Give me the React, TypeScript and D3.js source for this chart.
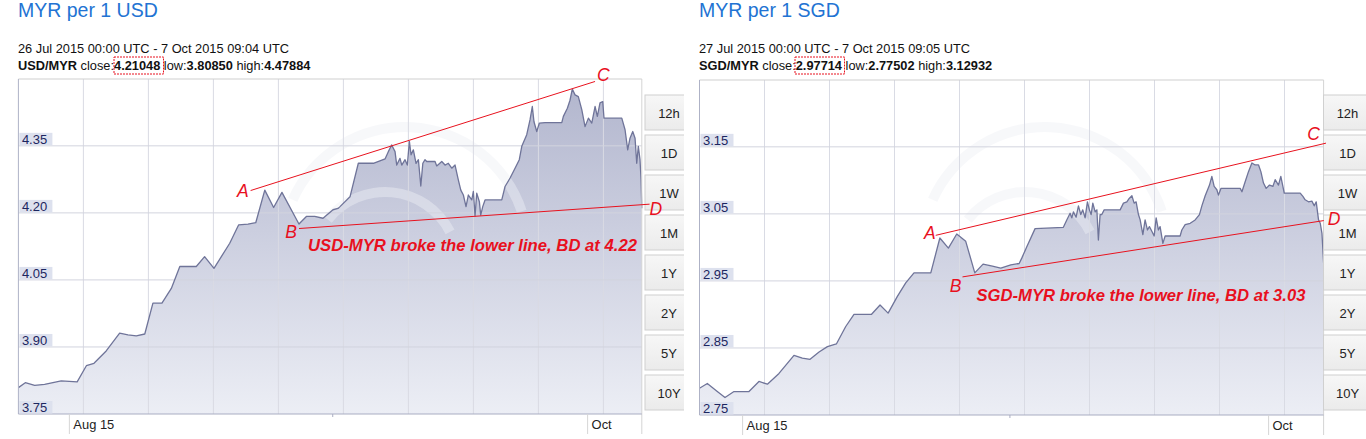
import React from "react";
import * as d3 from "d3";

type Pt = [string, number];

const FONT = "'Liberation Sans', Arial, Helvetica, sans-serif";
const parse = d3.utcParse("%Y-%m-%d %H:%M");

// USD/MYR series (date UTC, rate)
const usdMyr: Pt[] = [
  ["2015-07-26 00:00", 3.809], ["2015-07-26 19:30", 3.82], ["2015-07-27 22:00", 3.814],
  ["2015-07-29 02:00", 3.8165], ["2015-07-31 01:00", 3.824], ["2015-08-01 22:00", 3.822],
  ["2015-08-03 00:00", 3.858], ["2015-08-03 21:30", 3.8635], ["2015-08-05 08:00", 3.891],
  ["2015-08-06 22:00", 3.931], ["2015-08-07 21:30", 3.927], ["2015-08-08 21:00", 3.925],
  ["2015-08-09 21:00", 3.929], ["2015-08-10 20:00", 3.998], ["2015-08-11 21:30", 3.998],
  ["2015-08-13 00:00", 4.031], ["2015-08-14 00:00", 4.08], ["2015-08-15 22:30", 4.08],
  ["2015-08-16 22:00", 4.102], ["2015-08-18 00:30", 4.076], ["2015-08-19 21:00", 4.132],
  ["2015-08-20 22:00", 4.173], ["2015-08-22 00:30", 4.175], ["2015-08-22 22:30", 4.178],
  ["2015-08-24 00:00", 4.251], ["2015-08-25 01:00", 4.212], ["2015-08-26 00:30", 4.246],
  ["2015-08-28 00:30", 4.175], ["2015-08-28 21:30", 4.192], ["2015-08-29 21:00", 4.192],
  ["2015-08-30 20:30", 4.188], ["2015-09-01 00:45", 4.207], ["2015-09-01 15:00", 4.21],
  ["2015-09-01 20:30", 4.214], ["2015-09-03 00:45", 4.236], ["2015-09-04 00:15", 4.311],
  ["2015-09-05 18:45", 4.311], ["2015-09-07 04:00", 4.321], ["2015-09-07 13:00", 4.337],
  ["2015-09-07 22:30", 4.352], ["2015-09-08 08:00", 4.337], ["2015-09-08 12:45", 4.307],
  ["2015-09-08 22:00", 4.322], ["2015-09-09 03:00", 4.307], ["2015-09-09 12:15", 4.319],
  ["2015-09-09 18:45", 4.307], ["2015-09-10 00:30", 4.36], ["2015-09-10 05:15", 4.33],
  ["2015-09-10 11:45", 4.341], ["2015-09-10 19:15", 4.311], ["2015-09-11 02:00", 4.319],
  ["2015-09-11 08:45", 4.26], ["2015-09-11 14:30", 4.311], ["2015-09-11 20:45", 4.319],
  ["2015-09-12 01:30", 4.315], ["2015-09-13 01:00", 4.315], ["2015-09-13 05:45", 4.305],
  ["2015-09-13 20:00", 4.315], ["2015-09-14 05:15", 4.307], ["2015-09-14 14:30", 4.311],
  ["2015-09-15 00:15", 4.3], ["2015-09-15 09:30", 4.307], ["2015-09-15 18:45", 4.274],
  ["2015-09-16 01:45", 4.251], ["2015-09-16 09:00", 4.24], ["2015-09-16 16:30", 4.214],
  ["2015-09-16 23:00", 4.24], ["2015-09-17 08:45", 4.229], ["2015-09-17 13:15", 4.248],
  ["2015-09-17 18:00", 4.193], ["2015-09-17 22:45", 4.244], ["2015-09-18 06:15", 4.225],
  ["2015-09-18 10:00", 4.195], ["2015-09-18 15:45", 4.214], ["2015-09-18 22:15", 4.229],
  ["2015-09-20 21:30", 4.229], ["2015-09-21 06:45", 4.259], ["2015-09-21 21:00", 4.278],
  ["2015-09-22 11:00", 4.3], ["2015-09-22 23:00", 4.319], ["2015-09-23 06:00", 4.349],
  ["2015-09-23 20:00", 4.375], ["2015-09-24 05:15", 4.408], ["2015-09-24 11:45", 4.438],
  ["2015-09-24 16:30", 4.404], ["2015-09-25 00:15", 4.382], ["2015-09-25 07:45", 4.401],
  ["2015-09-25 23:45", 4.402], ["2015-09-27 23:00", 4.402], ["2015-09-28 03:30", 4.416],
  ["2015-09-28 14:45", 4.434], ["2015-09-28 22:15", 4.452], ["2015-09-29 04:45", 4.477],
  ["2015-09-29 12:30", 4.464], ["2015-09-29 21:45", 4.46], ["2015-09-30 07:30", 4.431],
  ["2015-09-30 16:45", 4.393], ["2015-10-01 02:15", 4.412], ["2015-10-01 11:45", 4.401],
  ["2015-10-01 21:00", 4.438], ["2015-10-02 03:30", 4.416], ["2015-10-02 11:00", 4.446],
  ["2015-10-02 18:45", 4.449], ["2015-10-02 22:15", 4.412], ["2015-10-05 00:30", 4.412],
  ["2015-10-05 09:45", 4.386], ["2015-10-05 17:15", 4.341], ["2015-10-05 23:45", 4.367],
  ["2015-10-06 07:30", 4.382], ["2015-10-06 14:00", 4.367], ["2015-10-06 18:45", 4.311],
  ["2015-10-06 23:15", 4.349], ["2015-10-07 04:00", 4.319], ["2015-10-07 07:00", 4.274],
  ["2015-10-07 09:04", 4.2105],
];

// SGD/MYR series
const sgdMyr: Pt[] = [
  ["2015-07-27 00:00", 2.79], ["2015-07-27 21:45", 2.797], ["2015-07-29 01:30", 2.785],
  ["2015-07-29 23:00", 2.776], ["2015-07-31 00:00", 2.785], ["2015-08-01 17:45", 2.785],
  ["2015-08-02 21:30", 2.8], ["2015-08-03 21:00", 2.796], ["2015-08-05 05:15", 2.812],
  ["2015-08-06 23:00", 2.839], ["2015-08-07 22:15", 2.835], ["2015-08-08 19:45", 2.833],
  ["2015-08-09 20:45", 2.844], ["2015-08-10 20:00", 2.852], ["2015-08-11 21:00", 2.856],
  ["2015-08-12 23:00", 2.882], ["2015-08-13 22:00", 2.9], ["2015-08-15 22:15", 2.9],
  ["2015-08-16 22:30", 2.914], ["2015-08-17 21:00", 2.902], ["2015-08-18 22:45", 2.927],
  ["2015-08-19 22:00", 2.947], ["2015-08-20 21:00", 2.962], ["2015-08-22 19:45", 2.962],
  ["2015-08-23 21:00", 3.014], ["2015-08-24 20:45", 2.999], ["2015-08-25 20:00", 3.02],
  ["2015-08-26 21:00", 3.009], ["2015-08-27 22:15", 2.962], ["2015-08-28 21:15", 2.975],
  ["2015-08-29 23:15", 2.972], ["2015-08-30 22:30", 2.969], ["2015-09-01 02:30", 2.974],
  ["2015-09-02 01:45", 2.976], ["2015-09-02 09:00", 2.984], ["2015-09-02 23:00", 3.001],
  ["2015-09-03 22:00", 3.028], ["2015-09-07 04:45", 3.03], ["2015-09-07 14:15", 3.041],
  ["2015-09-07 23:30", 3.051], ["2015-09-08 04:15", 3.044], ["2015-09-08 08:45", 3.053],
  ["2015-09-08 16:15", 3.045], ["2015-09-08 22:45", 3.062], ["2015-09-09 05:15", 3.049],
  ["2015-09-09 10:45", 3.056], ["2015-09-09 17:15", 3.044], ["2015-09-09 23:45", 3.068],
  ["2015-09-10 05:15", 3.056], ["2015-09-10 10:00", 3.049], ["2015-09-10 14:45", 3.066],
  ["2015-09-10 21:15", 3.053], ["2015-09-11 02:00", 3.056], ["2015-09-11 06:15", 3.011],
  ["2015-09-11 11:00", 3.049], ["2015-09-11 15:45", 3.049], ["2015-09-11 22:15", 3.056],
  ["2015-09-13 18:45", 3.056], ["2015-09-14 04:00", 3.066], ["2015-09-14 13:30", 3.068],
  ["2015-09-14 20:00", 3.073], ["2015-09-15 03:30", 3.077], ["2015-09-15 09:45", 3.066],
  ["2015-09-15 15:15", 3.068], ["2015-09-15 21:45", 3.049], ["2015-09-16 02:30", 3.041],
  ["2015-09-16 10:00", 3.019], ["2015-09-16 16:15", 3.041], ["2015-09-16 22:45", 3.026],
  ["2015-09-17 04:15", 3.031], ["2015-09-17 11:00", 3.024], ["2015-09-17 17:30", 3.017],
  ["2015-09-17 23:00", 3.044], ["2015-09-18 05:15", 3.026], ["2015-09-18 10:00", 3.031],
  ["2015-09-18 17:45", 3.006], ["2015-09-19 00:00", 3.017], ["2015-09-20 17:45", 3.017],
  ["2015-09-20 22:30", 3.026], ["2015-09-21 07:45", 3.034], ["2015-09-21 21:45", 3.036],
  ["2015-09-22 11:30", 3.041], ["2015-09-22 23:30", 3.049], ["2015-09-23 06:15", 3.062],
  ["2015-09-23 15:30", 3.077], ["2015-09-24 03:30", 3.093], ["2015-09-24 10:00", 3.106],
  ["2015-09-24 16:30", 3.091], ["2015-09-25 00:00", 3.086], ["2015-09-25 04:30", 3.078],
  ["2015-09-25 11:15", 3.088], ["2015-09-25 18:30", 3.088], ["2015-09-27 17:00", 3.088],
  ["2015-09-27 21:45", 3.083], ["2015-09-28 06:45", 3.098], ["2015-09-28 16:00", 3.113],
  ["2015-09-29 01:30", 3.126], ["2015-09-29 10:30", 3.123], ["2015-09-29 20:00", 3.123],
  ["2015-09-30 02:30", 3.113], ["2015-09-30 09:45", 3.096], ["2015-09-30 17:15", 3.088],
  ["2015-10-01 02:30", 3.093], ["2015-10-01 12:00", 3.091], ["2015-10-01 18:15", 3.101],
  ["2015-10-02 03:30", 3.093], ["2015-10-02 10:00", 3.106], ["2015-10-02 15:45", 3.091],
  ["2015-10-02 19:30", 3.081], ["2015-10-04 16:00", 3.081], ["2015-10-04 23:30", 3.076],
  ["2015-10-05 05:45", 3.071], ["2015-10-05 15:00", 3.068], ["2015-10-06 00:30", 3.069],
  ["2015-10-06 07:00", 3.062], ["2015-10-06 12:30", 3.068], ["2015-10-06 19:00", 3.041],
  ["2015-10-06 23:45", 3.036], ["2015-10-07 04:30", 3.021], ["2015-10-07 09:05", 2.977],
];

const usdTicks = [3.75, 3.9, 4.05, 4.2, 4.35];
const sgdTicks = [2.75, 2.85, 2.95, 3.05, 3.15];
const monthTicks: [string, string][] = [["2015-08-01 00:00", "Aug 15"], ["2015-10-01 00:00", "Oct"]];
const minorTicks = ["2015-09-01 00:00"];
const rangeButtons = ["12h", "1D", "1W", "1M", "1Y", "2Y", "5Y", "10Y"];

// trend lines (annotations)
const usdUpper: Pt[] = [["2015-08-22 08:00", 4.25], ["2015-10-01 21:00", 4.494]];
const usdLower: Pt[] = [["2015-08-28 00:45", 4.165], ["2015-10-08 07:00", 4.2195]];
const sgdUpper: Pt[] = [["2015-08-23 09:30", 3.018], ["2015-10-07 15:45", 3.1555]];
const sgdLower: Pt[] = [["2015-08-26 12:00", 2.956], ["2015-10-07 09:40", 3.04]];

interface Cfg {
  id: string;
  ox: number;
  left: number;
  right: number;
  top: number;
  bottom: number;
  title: string;
  period: string;
  pair: string;
  close: string;
  low: string;
  high: string;
  start: string;
  end: string;
  yDomain: [number, number];
  yTicks: number[];
  data: Pt[];
  upper: Pt[];
  lower: Pt[];
  note: string;
  noteOff: [number, number];
  lbl: { A: [number, number]; B: [number, number]; C: [number, number, string]; D: [number, number, string] };
  btnX: number;
  wm: [number, number];
}

const panels: Cfg[] = [
  {
    id: "usd", ox: 18, left: 18.4, right: 641.8, top: 79, bottom: 414,
    title: "MYR per 1 USD", period: "26 Jul 2015 00:00 UTC - 7 Oct 2015 09:04 UTC",
    pair: "USD/MYR", close: "4.21048", low: "3.80850", high: "4.47884",
    start: "2015-07-26 00:00", end: "2015-10-07 09:04", yDomain: [3.75, 4.5], yTicks: usdTicks,
    data: usdMyr, upper: usdUpper, lower: usdLower,
    note: "USD-MYR broke the lower line, BD at 4.22", noteOff: [308, 251],
    lbl: { A: [-2, 6.5], B: [-2, 9.5], C: [2, 0, "start"], D: [0, 11, "start"] },
    btnX: 645, wm: [405, 250],
  },
  {
    id: "sgd", ox: 699, left: 699.5, right: 1323.6, top: 80, bottom: 415,
    title: "MYR per 1 SGD", period: "27 Jul 2015 00:00 UTC - 7 Oct 2015 09:05 UTC",
    pair: "SGD/MYR", close: "2.97714", low: "2.77502", high: "3.12932",
    start: "2015-07-27 00:00", end: "2015-10-07 09:05", yDomain: [2.75, 3.25], yTicks: sgdTicks,
    data: sgdMyr, upper: sgdUpper, lower: sgdLower,
    note: "SGD-MYR broke the lower line, BD at 3.03", noteOff: [976.5, 301],
    lbl: { A: [0, 3.5], B: [-1, 15], C: [-6, -3, "end"], D: [4, 4, "start"] },
    btnX: 1323.5, wm: [1045, 250],
  },
];

const RED = "#e8101e";

function Panel({ c }: { c: Cfg }) {
  const x = d3.scaleUtc().domain([parse(c.start)!, parse(c.end)!]).range([c.left, c.right]);
  const y = d3.scaleLinear().domain(c.yDomain).range([c.bottom, c.top - 0.2]);
  const pts = c.data.map(([d, v]) => [parse(d)!, v] as [Date, number]);
  const area = d3.area<[Date, number]>().x((d) => x(d[0])).y0(c.bottom).y1((d) => y(d[1]));
  const line = d3.line<[Date, number]>().x((d) => x(d[0])).y((d) => y(d[1]));
  const seg = (p: Pt[]) => p.map(([d, v]) => [x(parse(d)!), y(v)] as [number, number]);
  const up = seg(c.upper);
  const lo = seg(c.lower);
  const vGrid = d3.range(1, 10).map((k) => c.left + 65 * k);
  const arcBig = d3.arc()({ innerRadius: 118, outerRadius: 128, startAngle: -1.15, endAngle: 1.25 } as any) || "";
  const arcSmall = d3.arc()({ innerRadius: 68, outerRadius: 78, startAngle: -0.9, endAngle: 1.1 } as any) || "";
  const lt = { fontFamily: FONT, fontStyle: "italic" as const, fontSize: 17.5, fill: RED };
  return (
    <g>
      {/* header */}
      <text x={c.ox} y={16.5} fontSize={19.5} fill="#2273d3" fontFamily={FONT}>{c.title}</text>
      <text x={c.ox} y={52.5} fontSize={12.8} fill="#111" fontFamily={FONT}>{c.period}</text>
      <text x={c.ox} y={69.5} fontSize={12.8} fill="#111" fontFamily={FONT}>
        <tspan fontWeight="bold">{c.pair}</tspan>
        {" close:"}
        <tspan fontWeight="bold">{c.close}</tspan>
        {" low:"}
        <tspan fontWeight="bold">{c.low}</tspan>
        {" high:"}
        <tspan fontWeight="bold">{c.high}</tspan>
      </text>
      <rect x={c.ox + 96} y={57} width={49.5} height={17} fill="none" stroke={RED} strokeWidth={1} strokeDasharray="2,1" />

      {/* area */}
      <path d={area(pts) || ""} fill={`url(#fill-${c.id})`} />

      {/* watermark */}
      <g transform={`translate(${c.wm[0]},${c.wm[1]})`} fill="#eef0f6" opacity={0.45}>
        <path d={arcBig} />
        <path d={arcSmall} transform="translate(-20,15)" />
      </g>

      {/* grid */}
      {vGrid.map((gx, i) => (
        <line key={i} x1={gx} x2={gx} y1={c.top} y2={c.bottom} stroke="#d9dbe4" strokeWidth={1} />
      ))}
      {c.yTicks.slice(1).map((t) => (
        <line key={t} x1={c.left} x2={c.right} y1={y(t)} y2={y(t)} stroke="#d2d4de" strokeWidth={1} />
      ))}

      {/* series line */}
      <path d={line(pts) || ""} fill="none" stroke="#6f7499" strokeWidth={1.3} strokeLinejoin="round" />

      {/* frame */}
      <line x1={c.left} x2={c.right} y1={c.top} y2={c.top} stroke="#cfcfcf" />
      <line x1={c.left} x2={c.left} y1={c.top} y2={c.bottom} stroke="#aeb2c6" />
      <line x1={c.right} x2={c.right} y1={c.top} y2={c.bottom + 20} stroke="#d4d4d4" />
      <line x1={c.left} x2={c.right} y1={c.bottom} y2={c.bottom} stroke="#a9adc2" />

      {/* y labels */}
      {c.yTicks.map((t) => (
        <g key={t}>
          <rect x={c.left + 1} y={y(t) - 13} width={33} height={12.5} fill="#dde1ee" />
          <text x={c.left + 3.5} y={y(t) - 2} fontSize={13} fill="#1c2660" fontFamily={FONT}>
            {t.toFixed(2)}
          </text>
        </g>
      ))}

      {/* x ticks */}
      {monthTicks.map(([d, label]) => {
        const tx = x(parse(d)!);
        return (
          <g key={d}>
            <line x1={tx} x2={tx} y1={c.bottom} y2={c.bottom + 20} stroke="#d6d6d6" />
            <text x={tx + 4} y={c.bottom + 15} fontSize={12.9} fill="#222" fontFamily={FONT}>{label}</text>
          </g>
        );
      })}
      {minorTicks.map((d) => {
        const tx = x(parse(d)!);
        return <line key={d} x1={tx} x2={tx} y1={c.bottom} y2={c.bottom + 3} stroke="#a9adc2" />;
      })}

      {/* range buttons */}
      {rangeButtons.map((b, i) => (
        <g key={b}>
          <rect x={c.btnX} y={95 + 40 * i} width={49} height={35} fill={`url(#btn-${c.id})`} stroke="#d0d0d0" />
          <text x={c.btnX + 24} y={118 + 40 * i} textAnchor="middle" fontSize={13} fill="#222" fontFamily={FONT}>{b}</text>
        </g>
      ))}

      {/* trend lines */}
      <line x1={up[0][0]} y1={up[0][1]} x2={up[1][0]} y2={up[1][1]} stroke="#e8121e" strokeWidth={1} />
      <line x1={lo[0][0]} y1={lo[0][1]} x2={lo[1][0]} y2={lo[1][1]} stroke="#e8121e" strokeWidth={1} />
      <text {...lt} x={up[0][0] + c.lbl.A[0]} y={up[0][1] + c.lbl.A[1]} textAnchor="end">A</text>
      <text {...lt} x={lo[0][0] + c.lbl.B[0]} y={lo[0][1] + c.lbl.B[1]} textAnchor="end">B</text>
      <text {...lt} x={up[1][0] + c.lbl.C[0]} y={up[1][1] + c.lbl.C[1]} textAnchor={c.lbl.C[2]}>C</text>
      <text {...lt} x={lo[1][0] + c.lbl.D[0]} y={lo[1][1] + c.lbl.D[1]} textAnchor={c.lbl.D[2]}>D</text>
      <text
        x={c.noteOff[0]} y={c.noteOff[1]} fontFamily={FONT} fontStyle="italic" fontWeight="bold"
        fontSize={16.7} fill={RED} textLength={329} lengthAdjust="spacingAndGlyphs"
      >
        {c.note}
      </text>
    </g>
  );
}

export default function App() {
  return (
    <div style={{ position: "absolute", left: 0, top: 0 }}>
      <svg width={1366} height={439} style={{ display: "block", background: "#fff" }}>
        <defs>
          {panels.map((c) => (
            <React.Fragment key={c.id}>
              <linearGradient id={`fill-${c.id}`} x1="0" y1={c.top} x2="0" y2={c.bottom} gradientUnits="userSpaceOnUse">
                <stop offset="0" stopColor="#b1b5cd" />
                <stop offset="0.45" stopColor="#cbcedf" />
                <stop offset="1" stopColor="#eceef5" />
              </linearGradient>
              <linearGradient id={`btn-${c.id}`} x1="0" y1="0" x2="0" y2="1">
                <stop offset="0" stopColor="#f7f7f7" />
                <stop offset="1" stopColor="#ebebeb" />
              </linearGradient>
            </React.Fragment>
          ))}
          <clipPath id="leftClip">
            <rect x={0} y={0} width={684} height={439} />
          </clipPath>
        </defs>
        <g clipPath="url(#leftClip)">
          <Panel c={panels[0]} />
        </g>
        <Panel c={panels[1]} />
      </svg>
    </div>
  );
}
